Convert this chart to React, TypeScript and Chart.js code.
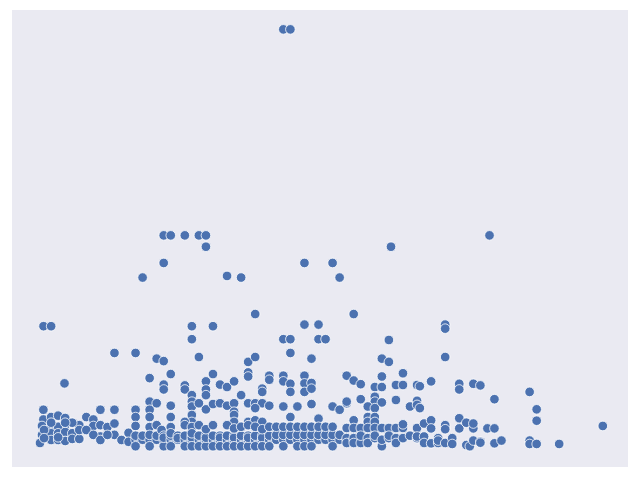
import React, { useEffect, useRef } from "react";
import { Chart, registerables } from "chart.js";

Chart.register(...registerables);

// [age, fare] pairs
const topPoints: number[][] = [
  [35, 514], [36, 514],
  [18, 260], [19, 260], [21, 260], [23, 260], [24, 260], [64.3, 260],
  [24, 246], [50.3, 246],
  [18, 226], [38, 226], [42, 226],
  [15, 208], [27, 210], [29, 208], [43, 208],
  [31, 163], [45, 163],
];

const upperPoints: number[][] = [
  [0.92, 148], [2, 148], [22, 148], [25, 148], [38, 150], [40, 150], [58, 150], [58, 145],
  [22, 132], [35, 132], [36, 132], [40, 132], [41, 132], [50, 131],
  [11, 115], [14, 115], [36, 115],
  [17, 108], [18, 105], [23, 110], [30, 104], [31, 110], [39, 108], [49, 108], [50, 104], [58, 110],
];

const midPoints: number[][] = [
  [3.9, 77.5],
  [16, 84], [19, 89], [21, 75], [21, 70], [18, 76], [18, 70], [24, 80], [24, 70], [24, 63],
  [25, 89], [26, 76], [27, 73], [28, 80], [22, 63], [22, 55], [22, 49], [16, 55], [17, 53],
  [19, 50], [24, 45.5], [23, 53], [25, 52], [26, 53], [27, 50], [28, 53], [28, 42.6], [29, 63],
  [30, 91], [30, 86], [33, 87], [33, 82], [35, 87], [35, 80], [36, 77], [36, 67], [38, 87],
  [38, 77.5], [38, 67], [39, 78], [39, 71], [44, 87], [32, 71], [32, 67],
  [30, 53], [31, 53], [32, 53], [31, 47], [33, 50], [35, 49], [37, 49], [39, 52], [42, 49],
  [43, 45], [44, 53], [36, 36], [40, 34], [30, 30], [31, 32],
  [52, 90], [49, 86], [45, 81], [46, 76.5], [48, 73], [49, 73], [51, 75.5], [52, 75.5],
  [54, 75.5], [56, 80], [54.4, 74],
  [44, 55], [46, 58], [48, 61], [48, 55], [49, 54], [51, 57], [47, 49], [48, 47], [53, 49],
  [54, 56], [54, 51], [54.4, 47],
  [45, 32], [47, 36], [47, 30], [48, 36], [48, 30],
  [16, 45], [16, 36], [19, 36], [22, 38.5], [22, 30], [28, 38.5], [28, 30], [21, 30], [32, 30],
];

const childPoints: number[][] = [
  [0.9, 45], [9, 45], [11, 45], [14, 45],
  [0.9, 33], [2, 36], [3, 37.7], [4, 34.8], [0.7, 25], [2, 24], [4, 26], [3, 24],
  [0.7, 14], [2, 16], [3, 16], [4, 17.6], [5, 16], [0.42, 4], [2, 7.7], [3, 7.7], [4, 6.5],
  [5, 9], [6, 9], [6, 26], [7, 36], [8, 33], [8, 25], [9, 26], [9, 12], [10, 23.6], [11, 28],
  [11, 14], [12, 7.7], [13, 16.5], [13, 5.5], [14, 36], [14, 25],
  [1, 20], [1, 10], [2, 29], [5, 29], [6, 20], [7, 20], [8, 14], [9, 7.7], [10, 14], [3, 11], [4, 29],
];

const bandPoints: number[][] = [
  [14, 8], [14, 13], [14, 0], [15, 8], [15, 13], [16, 8], [16, 0], [16, 23.6], [16, 14],
  [17, 8], [17, 13], [17, 26], [17.7, 20], [18, 8], [18, 13], [18, 0], [18, 10.5],
  [19, 8], [19, 13], [19, 0], [19, 23.6], [19, 16], [20, 8], [20, 13], [20, 10],
  [21, 8], [21, 13], [21, 26], [21, 0], [22, 8], [22, 13], [22, 10.5], [22, 0], [22, 23.6], [22, 16],
  [23, 8], [23, 13], [23, 26], [23, 0], [24, 8], [24, 13], [24, 0], [24, 10.5], [24, 21],
  [25, 8], [25, 13], [25, 26], [25, 0], [26, 8], [26, 13], [26, 10.5], [26, 0],
  [27, 8], [27, 13], [27, 26], [27, 0], [28, 8], [28, 13], [28, 10.5], [28, 0], [28, 22],
  [29, 8], [29, 13], [29, 24], [29, 0], [30, 8], [30, 13], [30, 0], [30, 10.5], [30, 26],
  [31, 8], [31, 13], [31, 24], [31, 0], [32, 8], [32, 13], [32, 10.5], [32, 0], [32, 21],
  [33, 8], [33, 13], [33, 24], [33, 0], [34, 8], [34, 14], [34, 24],
  [35, 8], [35, 14], [35, 24], [35, 0], [36, 8], [36, 14], [36, 24],
  [37, 8], [37, 14], [37, 24], [37, 0], [38, 8], [38, 14], [38, 24], [38, 0],
  [39, 8], [39, 14], [39, 24], [39, 0], [40, 8], [40, 14], [40, 24], [41, 8], [41, 14], [41, 24],
  [42, 8], [42, 14], [42, 24], [42, 0], [43, 8], [43, 14],
  [44, 8], [44, 22.5], [44, 10], [44, 4], [45, 8], [45, 22.5], [45, 10], [45, 4],
  [46, 22.5], [46, 4], [46, 13], [47, 22.5], [47, 10], [47, 4], [48, 22.5], [48, 10], [48, 13],
  [49, 22.5], [49, 0], [49, 8], [50, 22.5], [50, 10], [50, 13], [51, 22.5], [51, 10], [51, 4],
  [52, 22.5], [52, 27], [52, 10], [53, 13], [54, 22.5], [54, 10], [54, 12],
  [55, 28], [55, 12], [55, 4], [56, 32], [56, 22], [56, 3.6], [57, 10], [57, 4], [57, 7],
  [58, 22.5], [58, 26], [58, 21], [58, 4], [59, 10], [59, 2.8],
];

const elderPoints: number[][] = [
  [60, 77], [60, 70], [62, 77], [63, 75], [65, 58], [70, 67], [71, 45.5], [71, 31.5], [80.4, 25],
  [60, 34.5], [60, 22], [61, 29], [61, 1.5], [61.5, 0], [62, 22], [62, 7], [62, 28],
  [63, 5.6], [63, 4.4], [64, 22], [65, 22], [65, 3.6], [66, 7], [70, 7], [70, 2.8], [71, 2.8], [74.2, 2.8],
];

const xMin = -3.56;
const xMax = 83.98;
const yMin = -25.6;
const yMax = 537.9;

const plotBg = {
  id: "plotBg",
  beforeDraw(chart: any) {
    const { ctx, chartArea } = chart;
    ctx.save();
    ctx.fillStyle = "#ffffff";
    ctx.fillRect(0, 0, chart.width, chart.height);
    ctx.fillStyle = "#EAEAF2";
    ctx.fillRect(chartArea.left, chartArea.top, chartArea.right - chartArea.left, chartArea.bottom - chartArea.top);
    ctx.restore();
  },
};

export default function App() {
  const ref = useRef<HTMLCanvasElement | null>(null);
  useEffect(() => {
    document.body.style.margin = "0";
    const all = [...topPoints, ...upperPoints, ...midPoints, ...childPoints, ...bandPoints, ...elderPoints];
    const chart = new Chart(ref.current as HTMLCanvasElement, {
      type: "scatter",
      data: {
        datasets: [
          {
            data: all.map(([x, y]) => ({ x, y })),
            backgroundColor: "#4C72B0",
            borderColor: "#ffffff",
            borderWidth: 0.8,
            pointRadius: 4.8,
          },
        ],
      },
      options: {
        animation: false,
        responsive: false,
        layout: { padding: { left: 12, right: 12, top: 10, bottom: 11 } },
        plugins: { legend: { display: false }, tooltip: { enabled: false } },
        scales: {
          x: { type: "linear", min: xMin, max: xMax, display: false },
          y: { type: "linear", min: yMin, max: yMax, display: false },
        },
      },
      plugins: [plotBg],
    });
    return () => chart.destroy();
  }, []);
  return (
    <div style={{ width: 640, height: 478 }}>
      <canvas ref={ref} width={640} height={478} style={{ display: "block" }} />
    </div>
  );
}
